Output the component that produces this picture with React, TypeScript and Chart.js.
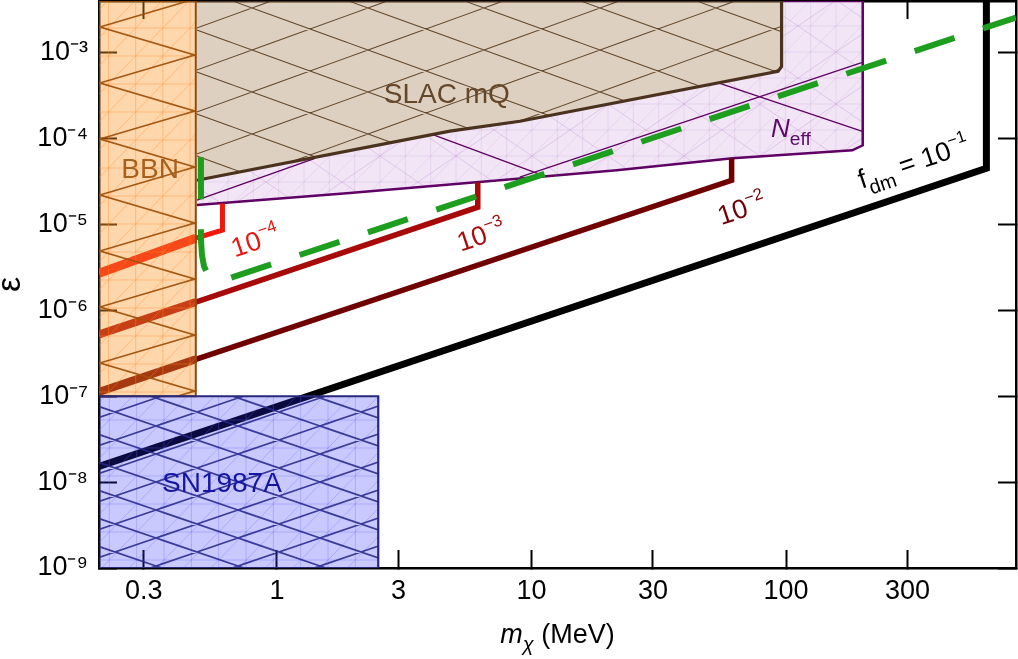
import React, { useEffect, useRef } from 'react';
import { Chart, registerables } from 'chart.js';

Chart.register(...registerables);

// ---------- axes ----------
const X_MIN = 0.2;
const X_MAX = 800;
const Y_MIN = 1e-9;
const Y_MAX = 4e-3;
const xTickValues = [0.3, 1, 3, 10, 30, 100, 300];
const xTickLabels = ['0.3', '1', '3', '10', '30', '100', '300'];
const yTickValues = [1e-9, 1e-8, 1e-7, 1e-6, 1e-5, 1e-4, 1e-3];
const yTickLabels = ['10⁻⁹', '10⁻⁸', '10⁻⁷', '10⁻⁶', '10⁻⁵', '10⁻⁴', '10⁻³'];

// ---------- excluded regions (m_chi in MeV, epsilon) ----------
const BBN_EDGE = 0.48;
const bbnMass = [0.2, 0.48, 0.48, 0.2];
const bbnEps = [1e-7, 1e-7, 4e-3, 4e-3];

const snMass = [0.2, 2.5, 2.5, 0.2];
const snEps = [1e-7, 1e-7, 1e-9, 1e-9];

const slacMass = [0.485, 4.78, 9.0, 93, 96, 96, 0.485];
const slacEps = [3.27e-5, 1.22e-4, 1.59e-4, 6.06e-4, 6.9e-4, 4e-3, 4e-3];

const neffMass = [0.485, 1.88, 7.5, 21.6, 61.6, 182, 200, 200, 0.485];
const neffEps = [1.68e-5, 2.31e-5, 3.27e-5, 4.28e-5, 5.9e-5, 7.31e-5, 8.36e-5, 4e-3, 4e-3];

// thin inner N_eff contours
const neffEdge1Mass = [0.485, 1.41];
const neffEdge1Eps = [1.92e-5, 5.9e-5];
const neffEdge2Mass = [3.9, 11.27];
const neffEdge2Eps = [1.17e-4, 3.65e-5];
const neffEdge3Mass = [8.99, 199.4];
const neffEdge3Eps = [3.55e-5, 7.71e-4];
const neffEdge4Mass = [50, 199.4];
const neffEdge4Eps = [4.82e-4, 1.216e-4];

// ---------- f_dm contours ----------
const fdm4Mass = [0.2, 0.48, 0.611, 0.611];
const fdm4Eps = [2.71e-6, 6.93e-6, 8.59e-6, 1.75e-5];
const fdm3Mass = [0.2, 0.48, 6.15, 6.15];
const fdm3Eps = [5.25e-7, 1.25e-6, 1.59e-5, 3.1e-5];
const fdm2Mass = [0.2, 0.48, 61.1, 61.1];
const fdm2Eps = [1.12e-7, 2.69e-7, 3.27e-5, 5.9e-5];
const fdm1Mass = [0.2, 612, 612];
const fdm1Eps = [1.52e-8, 4.51e-5, 4e-3];

// ---------- green dashed curve ----------
const dashMass = [0.503, 0.503, 0.5076, 0.517, 0.536, 0.566, 0.608, 800];
const dashEps = [6.06e-5, 6.57e-6, 4.4e-6, 3.25e-6, 2.62e-6, 2.29e-6, 2.21e-6, 2.57e-3];

// ---------- text labels ----------
type Part = { t: string; k?: 'sup' | 'sub'; i?: boolean };
const labelTexts: Part[][] = [
  [{ t: 'BBN' }],
  [{ t: 'SLAC mQ' }],
  [{ t: 'N', i: true }, { t: 'eff', k: 'sub' }],
  [{ t: 'SN1987A' }],
  [{ t: '10' }, { t: '−4', k: 'sup' }],
  [{ t: '10' }, { t: '−3', k: 'sup' }],
  [{ t: '10' }, { t: '−2', k: 'sup' }],
  [{ t: 'f' }, { t: 'dm', k: 'sub' }, { t: ' = 10' }, { t: '−1', k: 'sup' }],
];
const labelMass = [0.3174, 4.65, 104.5, 0.608, 0.82, 6.32, 66.8, 316];
const labelEps = [4.52e-5, 3.36e-4, 1.34e-4, 9.95e-9, 6.52e-6, 7.61e-6, 1.55e-5, 5.45e-5];

const FONT = '"Liberation Sans", Arial, Helvetica, sans-serif';
const labelStyles = [
  { color: 'rgb(168,96,26)', size: 28, rot: 0 },
  { color: 'rgb(100,70,40)', size: 28, rot: 0 },
  { color: 'rgb(92,10,108)', size: 26, rot: 0 },
  { color: 'rgb(22,22,165)', size: 28, rot: 0 },
  { color: 'rgb(232,22,18)', size: 27, rot: -18.6 },
  { color: 'rgb(168,12,12)', size: 27, rot: -18.6 },
  { color: 'rgb(112,0,0)', size: 27, rot: -18.6 },
  { color: '#000', size: 27, rot: -18.6 },
];

function drawRich(
  ctx: CanvasRenderingContext2D,
  parts: Part[],
  cx: number,
  cy: number,
  rot: number,
  color: string,
  size: number
) {
  ctx.save();
  ctx.translate(cx, cy);
  ctx.rotate((rot * Math.PI) / 180);
  ctx.fillStyle = color;
  ctx.textBaseline = 'alphabetic';
  ctx.textAlign = 'left';
  const fontFor = (p: Part) => {
    const s = p.k === 'sup' ? size * 0.62 : p.k === 'sub' ? size * 0.74 : size;
    return `${p.i ? 'italic ' : ''}${s.toFixed(1)}px ${FONT}`;
  };
  let total = 0;
  const widths = parts.map((p) => {
    ctx.font = fontFor(p);
    const w = ctx.measureText(p.t).width;
    total += w;
    return w;
  });
  let x = -total / 2;
  const base = size * 0.36;
  parts.forEach((p, i) => {
    ctx.font = fontFor(p);
    const dy = p.k === 'sup' ? -size * 0.45 : p.k === 'sub' ? size * 0.32 : 0;
    ctx.fillText(p.t, x, base + dy);
    x += widths[i];
  });
  ctx.restore();
}

const labelPlugin = {
  id: 'regionLabels',
  afterDraw(chart: any) {
    const { ctx, scales, chartArea } = chart;
    const xs = scales.x;
    const ys = scales.y;
    labelTexts.forEach((parts, i) => {
      const st = labelStyles[i];
      drawRich(ctx, parts, xs.getPixelForValue(labelMass[i]), ys.getPixelForValue(labelEps[i]), st.rot, st.color, st.size);
    });
    // x-axis title
    drawRich(
      ctx,
      [{ t: 'm', i: true }, { t: 'χ', k: 'sub', i: true }, { t: ' (MeV)' }],
      (chartArea.left + chartArea.right) / 2,
      chart.height - 26,
      0,
      '#000',
      27
    );
  },
};

function makeTile(
  ctx: CanvasRenderingContext2D,
  w: number,
  h: number,
  paint: (c: CanvasRenderingContext2D) => void
) {
  const cv = document.createElement('canvas');
  cv.width = w;
  cv.height = h;
  const c = cv.getContext('2d')!;
  paint(c);
  return ctx.createPattern(cv, 'repeat')!;
}

function diamonds(c: CanvasRenderingContext2D, w: number, h: number, ox: number, oy: number, color: string, lw: number) {
  c.strokeStyle = color;
  c.lineWidth = lw;
  c.beginPath();
  for (let i = -2; i <= 2; i++) {
    for (let j = -2; j <= 2; j++) {
      const x0 = ox + i * w;
      const y0 = oy + j * h;
      c.moveTo(x0, y0);
      c.lineTo(x0 + w, y0 + h);
      c.moveTo(x0, y0 + h);
      c.lineTo(x0 + w, y0);
    }
  }
  c.stroke();
}

function mesh(c: CanvasRenderingContext2D, w: number, h: number, nx: number, ny: number, color: string, lw: number) {
  c.strokeStyle = color;
  c.lineWidth = lw;
  c.beginPath();
  const dx = w / nx;
  const dy = h / ny;
  for (let i = 0; i <= nx; i++) {
    c.moveTo(i * dx, 0);
    c.lineTo(i * dx, h);
  }
  for (let j = 0; j <= ny; j++) {
    c.moveTo(0, j * dy);
    c.lineTo(w, j * dy);
  }
  for (let i = -1; i <= nx; i++) {
    for (let j = -1; j <= ny; j++) {
      c.moveTo(i * dx, (j + 1) * dy);
      c.lineTo((i + 1) * dx, j * dy);
    }
  }
  c.stroke();
}

const pts = (xs: number[], ys: number[]) => xs.map((x, i) => ({ x, y: ys[i] }));

export default function App() {
  const ref = useRef<HTMLCanvasElement>(null);

  useEffect(() => {
    const canvas = ref.current!;
    const ctx = canvas.getContext('2d')!;

    const bbnPattern = makeTile(ctx, 190, 56, (c) => {
      c.fillStyle = 'rgba(255,150,40,0.38)';
      c.fillRect(0, 0, 190, 56);
      mesh(c, 190, 56, 7, 2, 'rgba(255,140,40,0.5)', 0.8);
      diamonds(c, 190, 56, 5, 55, 'rgba(160,82,12,0.95)', 1.7);
    });
    const snPattern = makeTile(ctx, 82, 28, (c) => {
      c.fillStyle = 'rgba(40,40,255,0.25)';
      c.fillRect(0, 0, 82, 28);
      mesh(c, 82, 28, 3, 1, 'rgba(100,100,255,0.4)', 0.8);
      diamonds(c, 82, 28, 74, 6, 'rgba(40,40,140,0.88)', 1.7);
    });
    const slacPattern = makeTile(ctx, 116, 42, (c) => {
      c.fillStyle = 'rgb(222,208,192)';
      c.fillRect(0, 0, 116, 42);
      diamonds(c, 116, 42, 20, 8, 'rgba(85,58,30,0.9)', 1.1);
    });
    const neffPattern = makeTile(ctx, 76, 52, (c) => {
      c.fillStyle = 'rgb(242,229,246)';
      c.fillRect(0, 0, 76, 52);
      mesh(c, 76, 52, 3, 2, 'rgba(200,160,215,0.35)', 0.7);
      diamonds(c, 76, 52, 0, 0, 'rgba(190,140,210,0.45)', 0.8);
    });

    const base = { showLine: true, pointRadius: 0, pointHoverRadius: 0, tension: 0, clip: 0, borderJoinStyle: 'miter' as const };
    const poly = (label: string, xs: number[], ys: number[], bg: any, border: string, bw: number, order: number) => ({
      ...base,
      label,
      data: pts(xs, ys),
      fill: 'shape',
      backgroundColor: bg,
      borderColor: border,
      borderWidth: bw,
      order,
    });
    const line = (
      label: string,
      xs: number[],
      ys: number[],
      color: string,
      bw: number,
      order: number,
      dash: number[] = [],
      insideBBN = 0
    ) => ({
      ...base,
      label,
      data: pts(xs, ys),
      fill: false,
      borderColor: color,
      backgroundColor: color,
      borderWidth: bw,
      borderDash: dash,
      borderCapStyle: 'butt' as const,
      order,
      segment: insideBBN
        ? { borderWidth: (c: any) => (c.p1.parsed.x <= BBN_EDGE + 1e-9 ? insideBBN : bw) }
        : undefined,
    });

    const datasets: any[] = [
      poly('SN1987A', snMass, snEps, snPattern, 'rgb(40,40,125)', 2.2, 1),
      poly('BBN', bbnMass, bbnEps, bbnPattern, 'rgb(140,75,15)', 2, 2),
      line('green dashed', dashMass, dashEps, 'rgb(30,158,30)', 6, 3, [42, 30]),
      line('f_dm = 1e-1', fdm1Mass, fdm1Eps, '#000', 7, 4),
      line('f_dm = 1e-2', fdm2Mass, fdm2Eps, 'rgb(112,0,0)', 5.5, 5, [], 8),
      line('f_dm = 1e-3', fdm3Mass, fdm3Eps, 'rgb(168,10,10)', 5.5, 5, [], 8),
      line('f_dm = 1e-4', fdm4Mass, fdm4Eps, 'rgb(240,25,15)', 5, 5, [], 9),
      poly('SLAC mQ', slacMass, slacEps, slacPattern, 'rgb(75,50,30)', 3.2, 6),
      line('Neff edge 1', neffEdge1Mass, neffEdge1Eps, 'rgb(95,0,100)', 1.3, 7),
      line('Neff edge 2', neffEdge2Mass, neffEdge2Eps, 'rgb(95,0,100)', 1.3, 7),
      line('Neff edge 3', neffEdge3Mass, neffEdge3Eps, 'rgb(95,0,100)', 1.3, 7),
      line('Neff edge 4', neffEdge4Mass, neffEdge4Eps, 'rgb(95,0,100)', 1.3, 7),
      poly('Neff', neffMass, neffEps, neffPattern, 'rgb(95,0,100)', 2.5, 8),
    ];

    const tickFont = { family: FONT, size: 27 };
    const gridOpts = { drawOnChartArea: false, drawTicks: true, tickLength: -18, tickWidth: 2, tickColor: '#000' };
    const borderOpts = { display: true, color: '#000', width: 2.5 };
    const setX = (s: any) => {
      s.ticks = xTickValues.map((v) => ({ value: v }));
    };
    const setY = (s: any) => {
      s.ticks = yTickValues.map((v) => ({ value: v }));
    };

    const chart = new Chart(canvas, {
      type: 'scatter',
      data: { datasets },
      options: {
        animation: false,
        responsive: true,
        maintainAspectRatio: false,
        events: [],
        layout: { padding: 0 },
        plugins: { legend: { display: false }, tooltip: { enabled: false } },
        scales: {
          x: {
            type: 'logarithmic',
            position: 'bottom',
            min: X_MIN,
            max: X_MAX,
            z: 1,
            afterBuildTicks: setX,
            ticks: {
              autoSkip: false,
              maxRotation: 0,
              padding: 25,
              color: '#000',
              font: tickFont,
              callback: (_v: any, i: number) => xTickLabels[i],
            },
            grid: gridOpts,
            border: borderOpts,
            afterFit: (s: any) => {
              s.height = 91;
              s.paddingLeft = 0;
              s.paddingRight = 0;
            },
          },
          xTop: {
            type: 'logarithmic',
            axis: 'x',
            position: 'top',
            display: true,
            min: X_MIN,
            max: X_MAX,
            z: 1,
            afterBuildTicks: setX,
            ticks: { display: false },
            grid: gridOpts,
            border: borderOpts,
            afterFit: (s: any) => {
              s.height = 1;
              s.paddingLeft = 0;
              s.paddingRight = 0;
            },
          },
          y: {
            type: 'logarithmic',
            position: 'left',
            min: Y_MIN,
            max: Y_MAX,
            z: 1,
            afterBuildTicks: setY,
            ticks: {
              autoSkip: false,
              padding: 29,
              color: '#000',
              font: tickFont,
              callback: (_v: any, i: number) => yTickLabels[i],
            },
            title: {
              display: true,
              text: 'ε',
              color: '#000',
              padding: 0,
              font: { family: FONT, size: 34, lineHeight: 0.62 },
            },
            grid: gridOpts,
            border: borderOpts,
            afterFit: (s: any) => {
              s.width = 99;
              s.paddingTop = 0;
              s.paddingBottom = 0;
            },
          },
          yRight: {
            type: 'logarithmic',
            axis: 'y',
            position: 'right',
            display: true,
            min: Y_MIN,
            max: Y_MAX,
            z: 1,
            afterBuildTicks: setY,
            ticks: { display: false },
            grid: gridOpts,
            border: borderOpts,
            afterFit: (s: any) => {
              s.width = 2;
              s.paddingTop = 0;
              s.paddingBottom = 0;
            },
          },
        },
      } as any,
      plugins: [labelPlugin],
    });

    return () => chart.destroy();
  }, []);

  return (
    <div style={{ position: 'absolute', left: 0, top: 0, width: 1018, height: 659, background: '#fff' }}>
      <canvas ref={ref} />
    </div>
  );
}
